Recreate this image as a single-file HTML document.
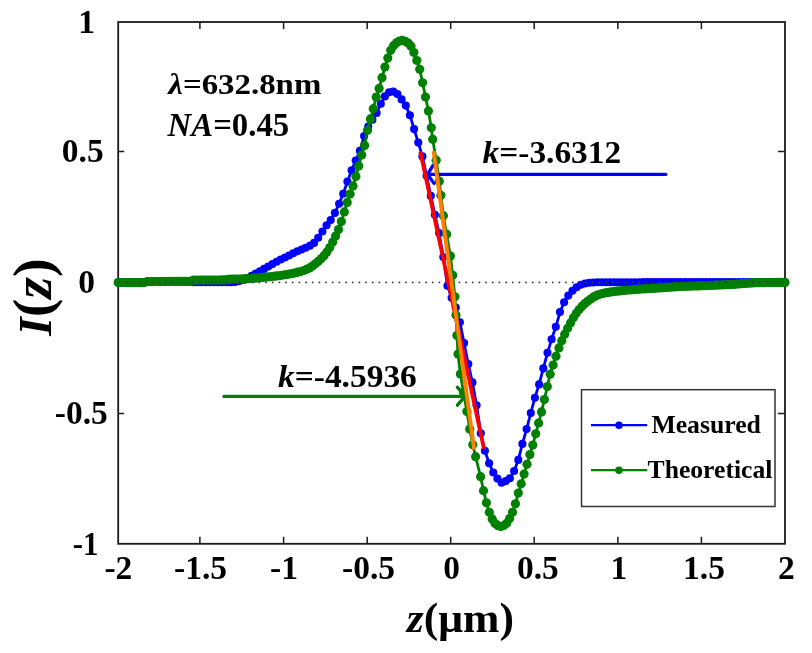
<!DOCTYPE html>
<html><head><meta charset="utf-8"><style>
html,body{margin:0;padding:0;background:#fff;}
body{width:812px;height:653px;overflow:hidden;}
svg{display:block;}
text{font-family:"Liberation Serif","Times New Roman",serif;font-weight:bold;fill:#000;}
.it{font-style:italic;}
</style></head><body>
<svg width="812" height="653" viewBox="0 0 812 653">
<rect width="812" height="653" fill="#fff"/>
<!-- axes -->
<g fill="none" stroke="#1a1a1a" stroke-width="1.8">
<rect x="118.2" y="22.0" width="666.8" height="521.8"/>
<path d="M199.9 543.8V536.8M199.9 22.0V29.0M283.6 543.8V536.8M283.6 22.0V29.0M367.2 543.8V536.8M367.2 22.0V29.0M450.7 543.8V536.8M450.7 22.0V29.0M534.2 543.8V536.8M534.2 22.0V29.0M617.9 543.8V536.8M617.9 22.0V29.0M701.4 543.8V536.8M701.4 22.0V29.0M118.2 151.4H124.2M785.0 151.4H778.0M118.2 282.4H124.2M785.0 282.4H778.0M118.2 413.4H124.2M785.0 413.4H778.0" stroke-width="1.5"/>
</g>
<g fill="none" stroke-linejoin="round">
<polyline points="118.2,282.4 122.4,282.4 126.5,282.4 130.7,282.4 134.9,282.3 139.0,282.3 143.2,282.2 147.4,282.1 151.5,281.5 155.7,281.5 159.9,281.4 164.0,281.4 168.2,281.3 172.4,281.3 176.5,281.3 180.7,281.3 184.9,281.3 189.0,281.6 193.2,282.3 197.4,282.3 201.6,282.3 205.7,282.3 209.9,282.3 214.1,282.3 218.2,282.3 222.4,282.3 226.6,282.3 230.7,282.3 234.9,282.1 239.1,281.1 243.2,279.9 247.4,278.0 251.6,275.8 255.7,273.5 259.9,271.2 264.1,268.9 268.2,266.5 272.4,264.1 276.6,261.8 280.7,259.5 284.9,257.5 289.1,255.5 293.2,253.2 297.4,251.2 301.6,249.5 305.7,247.8 309.9,245.7 314.1,242.9 318.2,237.8 322.4,231.5 326.6,225.3 330.7,220.1 334.9,212.9 339.1,203.7 343.2,193.7 347.4,181.6 351.6,170.2 355.7,160.5 359.9,150.9 364.1,136.1 368.2,126.5 372.4,119.7 376.6,113.0 380.8,103.8 384.9,96.4 389.1,92.2 393.3,91.6 397.4,94.0 401.6,99.4 405.8,105.6 409.9,115.2 414.1,129.1 418.3,142.6 422.4,156.4 426.6,175.8 430.8,195.9 434.9,214.8 439.1,233.1 443.3,257.1 447.4,285.8 451.6,297.8 455.8,307.5 459.9,322.3 464.1,343.1 468.3,364.1 472.4,382.4 476.6,405.2 480.8,433.3 484.9,450.7 489.1,463.3 493.3,472.5 497.4,478.6 501.6,482.8 505.8,481.1 509.9,478.2 514.1,471.0 518.3,459.9 522.4,443.9 526.6,429.1 530.8,413.0 534.9,397.7 539.1,384.4 543.3,368.4 547.5,352.8 551.6,339.3 555.8,326.8 560.0,312.1 564.1,302.3 568.3,295.6 572.5,290.8 576.6,287.3 580.8,284.8 585.0,283.5 589.1,282.8 593.3,282.5 597.5,282.2 601.6,282.2 605.8,282.2 610.0,282.2 614.1,282.2 618.3,282.2 622.5,282.2 626.6,282.2 630.8,282.2 635.0,282.2 639.1,282.2 643.3,282.1 647.5,282.1 651.6,282.1 655.8,282.1 660.0,282.1 664.1,282.1 668.3,282.1 672.5,282.1 676.6,282.1 680.8,282.1 685.0,282.1 689.1,282.1 693.3,282.1 697.5,282.1 701.6,282.1 705.8,282.1 710.0,282.1 714.2,282.1 718.3,282.1 722.5,282.1 726.7,282.1 730.8,282.1 735.0,282.1 739.2,282.1 743.3,282.1 747.5,282.1 751.7,282.1 755.8,282.1 760.0,282.1 764.2,282.1 768.3,282.1 772.5,282.1 776.7,282.1 780.8,282.1 785.0,282.1" stroke="#0000ff" stroke-width="2.8"/>
</g>
<g fill="#0000ff"><circle cx="118.2" cy="282.4" r="4.05"/><circle cx="122.4" cy="282.4" r="4.05"/><circle cx="126.5" cy="282.4" r="4.05"/><circle cx="130.7" cy="282.4" r="4.05"/><circle cx="134.9" cy="282.3" r="4.05"/><circle cx="139.0" cy="282.3" r="4.05"/><circle cx="143.2" cy="282.2" r="4.05"/><circle cx="147.4" cy="282.1" r="4.05"/><circle cx="151.5" cy="281.5" r="4.05"/><circle cx="155.7" cy="281.5" r="4.05"/><circle cx="159.9" cy="281.4" r="4.05"/><circle cx="164.0" cy="281.4" r="4.05"/><circle cx="168.2" cy="281.3" r="4.05"/><circle cx="172.4" cy="281.3" r="4.05"/><circle cx="176.5" cy="281.3" r="4.05"/><circle cx="180.7" cy="281.3" r="4.05"/><circle cx="184.9" cy="281.3" r="4.05"/><circle cx="189.0" cy="281.6" r="4.05"/><circle cx="193.2" cy="282.3" r="4.05"/><circle cx="197.4" cy="282.3" r="4.05"/><circle cx="201.6" cy="282.3" r="4.05"/><circle cx="205.7" cy="282.3" r="4.05"/><circle cx="209.9" cy="282.3" r="4.05"/><circle cx="214.1" cy="282.3" r="4.05"/><circle cx="218.2" cy="282.3" r="4.05"/><circle cx="222.4" cy="282.3" r="4.05"/><circle cx="226.6" cy="282.3" r="4.05"/><circle cx="230.7" cy="282.3" r="4.05"/><circle cx="234.9" cy="282.1" r="4.05"/><circle cx="239.1" cy="281.1" r="4.05"/><circle cx="243.2" cy="279.9" r="4.05"/><circle cx="247.4" cy="278.0" r="4.05"/><circle cx="251.6" cy="275.8" r="4.05"/><circle cx="255.7" cy="273.5" r="4.05"/><circle cx="259.9" cy="271.2" r="4.05"/><circle cx="264.1" cy="268.9" r="4.05"/><circle cx="268.2" cy="266.5" r="4.05"/><circle cx="272.4" cy="264.1" r="4.05"/><circle cx="276.6" cy="261.8" r="4.05"/><circle cx="280.7" cy="259.5" r="4.05"/><circle cx="284.9" cy="257.5" r="4.05"/><circle cx="289.1" cy="255.5" r="4.05"/><circle cx="293.2" cy="253.2" r="4.05"/><circle cx="297.4" cy="251.2" r="4.05"/><circle cx="301.6" cy="249.5" r="4.05"/><circle cx="305.7" cy="247.8" r="4.05"/><circle cx="309.9" cy="245.7" r="4.05"/><circle cx="314.1" cy="242.9" r="4.05"/><circle cx="318.2" cy="237.8" r="4.05"/><circle cx="322.4" cy="231.5" r="4.05"/><circle cx="326.6" cy="225.3" r="4.05"/><circle cx="330.7" cy="220.1" r="4.05"/><circle cx="334.9" cy="212.9" r="4.05"/><circle cx="339.1" cy="203.7" r="4.05"/><circle cx="343.2" cy="193.7" r="4.05"/><circle cx="347.4" cy="181.6" r="4.05"/><circle cx="351.6" cy="170.2" r="4.05"/><circle cx="355.7" cy="160.5" r="4.05"/><circle cx="359.9" cy="150.9" r="4.05"/><circle cx="364.1" cy="136.1" r="4.05"/><circle cx="368.2" cy="126.5" r="4.05"/><circle cx="372.4" cy="119.7" r="4.05"/><circle cx="376.6" cy="113.0" r="4.05"/><circle cx="380.8" cy="103.8" r="4.05"/><circle cx="384.9" cy="96.4" r="4.05"/><circle cx="389.1" cy="92.2" r="4.05"/><circle cx="393.3" cy="91.6" r="4.05"/><circle cx="397.4" cy="94.0" r="4.05"/><circle cx="401.6" cy="99.4" r="4.05"/><circle cx="405.8" cy="105.6" r="4.05"/><circle cx="409.9" cy="115.2" r="4.05"/><circle cx="414.1" cy="129.1" r="4.05"/><circle cx="418.3" cy="142.6" r="4.05"/><circle cx="422.4" cy="156.4" r="4.05"/><circle cx="426.6" cy="175.8" r="4.05"/><circle cx="430.8" cy="195.9" r="4.05"/><circle cx="434.9" cy="214.8" r="4.05"/><circle cx="439.1" cy="233.1" r="4.05"/><circle cx="443.3" cy="257.1" r="4.05"/><circle cx="447.4" cy="285.8" r="4.05"/><circle cx="451.6" cy="297.8" r="4.05"/><circle cx="455.8" cy="307.5" r="4.05"/><circle cx="459.9" cy="322.3" r="4.05"/><circle cx="464.1" cy="343.1" r="4.05"/><circle cx="468.3" cy="364.1" r="4.05"/><circle cx="472.4" cy="382.4" r="4.05"/><circle cx="476.6" cy="405.2" r="4.05"/><circle cx="480.8" cy="433.3" r="4.05"/><circle cx="484.9" cy="450.7" r="4.05"/><circle cx="489.1" cy="463.3" r="4.05"/><circle cx="493.3" cy="472.5" r="4.05"/><circle cx="497.4" cy="478.6" r="4.05"/><circle cx="501.6" cy="482.8" r="4.05"/><circle cx="505.8" cy="481.1" r="4.05"/><circle cx="509.9" cy="478.2" r="4.05"/><circle cx="514.1" cy="471.0" r="4.05"/><circle cx="518.3" cy="459.9" r="4.05"/><circle cx="522.4" cy="443.9" r="4.05"/><circle cx="526.6" cy="429.1" r="4.05"/><circle cx="530.8" cy="413.0" r="4.05"/><circle cx="534.9" cy="397.7" r="4.05"/><circle cx="539.1" cy="384.4" r="4.05"/><circle cx="543.3" cy="368.4" r="4.05"/><circle cx="547.5" cy="352.8" r="4.05"/><circle cx="551.6" cy="339.3" r="4.05"/><circle cx="555.8" cy="326.8" r="4.05"/><circle cx="560.0" cy="312.1" r="4.05"/><circle cx="564.1" cy="302.3" r="4.05"/><circle cx="568.3" cy="295.6" r="4.05"/><circle cx="572.5" cy="290.8" r="4.05"/><circle cx="576.6" cy="287.3" r="4.05"/><circle cx="580.8" cy="284.8" r="4.05"/><circle cx="585.0" cy="283.5" r="4.05"/><circle cx="589.1" cy="282.8" r="4.05"/><circle cx="593.3" cy="282.5" r="4.05"/><circle cx="597.5" cy="282.2" r="4.05"/><circle cx="601.6" cy="282.2" r="4.05"/><circle cx="605.8" cy="282.2" r="4.05"/><circle cx="610.0" cy="282.2" r="4.05"/><circle cx="614.1" cy="282.2" r="4.05"/><circle cx="618.3" cy="282.2" r="4.05"/><circle cx="622.5" cy="282.2" r="4.05"/><circle cx="626.6" cy="282.2" r="4.05"/><circle cx="630.8" cy="282.2" r="4.05"/><circle cx="635.0" cy="282.2" r="4.05"/><circle cx="639.1" cy="282.2" r="4.05"/><circle cx="643.3" cy="282.1" r="4.05"/><circle cx="647.5" cy="282.1" r="4.05"/><circle cx="651.6" cy="282.1" r="4.05"/><circle cx="655.8" cy="282.1" r="4.05"/><circle cx="660.0" cy="282.1" r="4.05"/><circle cx="664.1" cy="282.1" r="4.05"/><circle cx="668.3" cy="282.1" r="4.05"/><circle cx="672.5" cy="282.1" r="4.05"/><circle cx="676.6" cy="282.1" r="4.05"/><circle cx="680.8" cy="282.1" r="4.05"/><circle cx="685.0" cy="282.1" r="4.05"/><circle cx="689.1" cy="282.1" r="4.05"/><circle cx="693.3" cy="282.1" r="4.05"/><circle cx="697.5" cy="282.1" r="4.05"/><circle cx="701.6" cy="282.1" r="4.05"/><circle cx="705.8" cy="282.1" r="4.05"/><circle cx="710.0" cy="282.1" r="4.05"/><circle cx="714.2" cy="282.1" r="4.05"/><circle cx="718.3" cy="282.1" r="4.05"/><circle cx="722.5" cy="282.1" r="4.05"/><circle cx="726.7" cy="282.1" r="4.05"/><circle cx="730.8" cy="282.1" r="4.05"/><circle cx="735.0" cy="282.1" r="4.05"/><circle cx="739.2" cy="282.1" r="4.05"/><circle cx="743.3" cy="282.1" r="4.05"/><circle cx="747.5" cy="282.1" r="4.05"/><circle cx="751.7" cy="282.1" r="4.05"/><circle cx="755.8" cy="282.1" r="4.05"/><circle cx="760.0" cy="282.1" r="4.05"/><circle cx="764.2" cy="282.1" r="4.05"/><circle cx="768.3" cy="282.1" r="4.05"/><circle cx="772.5" cy="282.1" r="4.05"/><circle cx="776.7" cy="282.1" r="4.05"/><circle cx="780.8" cy="282.1" r="4.05"/><circle cx="785.0" cy="282.1" r="4.05"/></g>
<g fill="none">
<polyline points="118.2,282.6 121.1,282.6 124.0,282.6 126.9,282.6 129.8,282.6 132.7,282.6 135.6,282.6 138.5,282.6 141.4,282.6 144.3,282.6 147.2,281.5 150.1,281.5 153.0,281.5 155.9,281.5 158.8,281.5 161.7,281.5 164.6,281.5 167.5,281.5 170.4,281.4 173.3,281.4 176.2,281.4 179.1,281.4 182.0,281.4 184.9,281.4 187.8,281.4 190.7,281.4 193.6,280.1 196.5,280.1 199.4,280.0 202.3,280.0 205.2,280.0 208.1,280.0 211.0,280.0 213.9,280.0 216.8,280.0 219.7,280.0 222.6,279.9 225.5,279.9 228.4,279.4 231.3,279.2 234.2,279.1 237.1,279.0 240.0,279.0 242.9,278.9 245.8,278.8 248.7,278.6 251.6,278.4 254.5,278.2 257.4,278.0 260.3,277.7 263.2,277.4 266.1,277.1 269.0,276.8 271.9,276.5 274.8,276.2 277.7,275.8 280.6,275.5 283.5,275.0 286.3,274.6 289.2,274.1 292.1,273.5 295.0,272.9 297.9,272.2 300.8,271.5 303.7,270.5 306.6,269.3 309.5,267.9 312.4,266.0 315.3,263.8 318.2,261.4 321.1,258.8 324.0,255.7 326.9,251.9 329.8,247.5 332.7,242.0 335.6,236.0 338.5,229.6 341.4,221.6 344.3,211.9 347.2,202.4 350.1,194.1 353.0,185.9 355.9,176.6 358.8,165.9 361.7,155.0 364.6,145.6 367.5,130.3 370.4,118.9 373.3,108.7 376.2,97.1 379.1,88.4 382.0,77.7 384.9,67.1 387.8,58.1 390.7,50.3 393.6,45.7 396.5,42.8 399.4,41.1 402.3,40.4 405.2,41.3 408.1,43.0 411.0,46.2 413.9,52.5 416.8,60.5 419.7,69.3 422.6,82.8 425.5,97.0 428.4,110.9 431.3,127.8 432.7,139.3 436.2,160.2 439.3,181.2 440.9,195.3 443.4,215.7 446.6,234.2 450.4,255.9 452.7,275.2 454.9,296.8 456.0,315.0 456.9,335.5 458.0,354.1 460.4,374.0 463.5,392.2 466.9,411.6 469.7,429.1 472.8,444.8 475.6,456.7 480.6,476.7 483.5,490.7 486.4,502.8 489.3,512.3 492.2,518.9 495.1,523.4 498.0,525.7 500.9,526.6 503.8,525.5 506.7,523.3 509.6,518.6 512.5,512.3 515.4,503.8 518.3,493.1 521.2,483.8 524.1,474.1 527.0,464.3 529.9,454.6 532.8,445.1 535.7,433.8 538.6,423.0 541.5,411.9 544.4,399.5 547.3,386.5 550.2,374.2 553.1,365.1 556.0,356.2 558.9,347.9 561.8,340.7 564.7,334.2 567.6,328.3 570.5,322.9 573.4,317.8 576.3,313.2 579.2,309.5 582.1,306.2 585.0,303.4 587.9,301.1 590.8,298.9 593.7,296.9 596.6,295.4 599.5,294.3 602.4,293.5 605.3,292.9 608.2,292.4 611.1,291.9 614.0,291.5 616.9,291.2 619.7,290.9 622.6,290.6 625.5,290.3 628.4,290.0 631.3,289.8 634.2,289.6 637.1,289.3 640.0,289.1 642.9,288.9 645.8,288.8 648.7,288.6 651.6,288.4 654.5,288.3 657.4,288.1 660.3,287.9 663.2,287.7 666.1,287.5 669.0,287.3 671.9,287.1 674.8,286.9 677.7,286.7 680.6,286.5 683.5,286.4 686.4,286.3 689.3,286.2 692.2,286.1 695.1,286.0 698.0,285.9 700.9,285.8 703.8,285.7 706.7,285.6 709.6,285.5 712.5,285.4 715.4,285.2 718.3,285.1 721.2,285.0 724.1,284.8 727.0,284.7 729.9,284.5 732.8,284.4 735.7,284.2 738.6,284.0 741.5,283.7 744.4,283.5 747.3,283.3 750.2,283.1 753.1,282.9 756.0,282.7 758.9,282.7 761.8,282.6 764.7,282.6 767.6,282.5 770.5,282.5 773.4,282.5 776.3,282.4 779.2,282.4 782.1,282.4 785.0,282.4" stroke="#008000" stroke-width="2.8"/>
</g>
<g fill="#008000"><circle cx="118.2" cy="282.6" r="4.6"/><circle cx="121.1" cy="282.6" r="4.6"/><circle cx="124.0" cy="282.6" r="4.6"/><circle cx="126.9" cy="282.6" r="4.6"/><circle cx="129.8" cy="282.6" r="4.6"/><circle cx="132.7" cy="282.6" r="4.6"/><circle cx="135.6" cy="282.6" r="4.6"/><circle cx="138.5" cy="282.6" r="4.6"/><circle cx="141.4" cy="282.6" r="4.6"/><circle cx="144.3" cy="282.6" r="4.6"/><circle cx="147.2" cy="281.5" r="4.6"/><circle cx="150.1" cy="281.5" r="4.6"/><circle cx="153.0" cy="281.5" r="4.6"/><circle cx="155.9" cy="281.5" r="4.6"/><circle cx="158.8" cy="281.5" r="4.6"/><circle cx="161.7" cy="281.5" r="4.6"/><circle cx="164.6" cy="281.5" r="4.6"/><circle cx="167.5" cy="281.5" r="4.6"/><circle cx="170.4" cy="281.4" r="4.6"/><circle cx="173.3" cy="281.4" r="4.6"/><circle cx="176.2" cy="281.4" r="4.6"/><circle cx="179.1" cy="281.4" r="4.6"/><circle cx="182.0" cy="281.4" r="4.6"/><circle cx="184.9" cy="281.4" r="4.6"/><circle cx="187.8" cy="281.4" r="4.6"/><circle cx="190.7" cy="281.4" r="4.6"/><circle cx="193.6" cy="280.1" r="4.6"/><circle cx="196.5" cy="280.1" r="4.6"/><circle cx="199.4" cy="280.0" r="4.6"/><circle cx="202.3" cy="280.0" r="4.6"/><circle cx="205.2" cy="280.0" r="4.6"/><circle cx="208.1" cy="280.0" r="4.6"/><circle cx="211.0" cy="280.0" r="4.6"/><circle cx="213.9" cy="280.0" r="4.6"/><circle cx="216.8" cy="280.0" r="4.6"/><circle cx="219.7" cy="280.0" r="4.6"/><circle cx="222.6" cy="279.9" r="4.6"/><circle cx="225.5" cy="279.9" r="4.6"/><circle cx="228.4" cy="279.4" r="4.6"/><circle cx="231.3" cy="279.2" r="4.6"/><circle cx="234.2" cy="279.1" r="4.6"/><circle cx="237.1" cy="279.0" r="4.6"/><circle cx="240.0" cy="279.0" r="4.6"/><circle cx="242.9" cy="278.9" r="4.6"/><circle cx="245.8" cy="278.8" r="4.6"/><circle cx="248.7" cy="278.6" r="4.6"/><circle cx="251.6" cy="278.4" r="4.6"/><circle cx="254.5" cy="278.2" r="4.6"/><circle cx="257.4" cy="278.0" r="4.6"/><circle cx="260.3" cy="277.7" r="4.6"/><circle cx="263.2" cy="277.4" r="4.6"/><circle cx="266.1" cy="277.1" r="4.6"/><circle cx="269.0" cy="276.8" r="4.6"/><circle cx="271.9" cy="276.5" r="4.6"/><circle cx="274.8" cy="276.2" r="4.6"/><circle cx="277.7" cy="275.8" r="4.6"/><circle cx="280.6" cy="275.5" r="4.6"/><circle cx="283.5" cy="275.0" r="4.6"/><circle cx="286.3" cy="274.6" r="4.6"/><circle cx="289.2" cy="274.1" r="4.6"/><circle cx="292.1" cy="273.5" r="4.6"/><circle cx="295.0" cy="272.9" r="4.6"/><circle cx="297.9" cy="272.2" r="4.6"/><circle cx="300.8" cy="271.5" r="4.6"/><circle cx="303.7" cy="270.5" r="4.6"/><circle cx="306.6" cy="269.3" r="4.6"/><circle cx="309.5" cy="267.9" r="4.6"/><circle cx="312.4" cy="266.0" r="4.6"/><circle cx="315.3" cy="263.8" r="4.6"/><circle cx="318.2" cy="261.4" r="4.6"/><circle cx="321.1" cy="258.8" r="4.6"/><circle cx="324.0" cy="255.7" r="4.6"/><circle cx="326.9" cy="251.9" r="4.6"/><circle cx="329.8" cy="247.5" r="4.6"/><circle cx="332.7" cy="242.0" r="4.6"/><circle cx="335.6" cy="236.0" r="4.6"/><circle cx="338.5" cy="229.6" r="4.6"/><circle cx="341.4" cy="221.6" r="4.6"/><circle cx="344.3" cy="211.9" r="4.6"/><circle cx="347.2" cy="202.4" r="4.6"/><circle cx="350.1" cy="194.1" r="4.6"/><circle cx="353.0" cy="185.9" r="4.6"/><circle cx="355.9" cy="176.6" r="4.6"/><circle cx="358.8" cy="165.9" r="4.6"/><circle cx="361.7" cy="155.0" r="4.6"/><circle cx="364.6" cy="145.6" r="4.6"/><circle cx="367.5" cy="130.3" r="4.6"/><circle cx="370.4" cy="118.9" r="4.6"/><circle cx="373.3" cy="108.7" r="4.6"/><circle cx="376.2" cy="97.1" r="4.6"/><circle cx="379.1" cy="88.4" r="4.6"/><circle cx="382.0" cy="77.7" r="4.6"/><circle cx="384.9" cy="67.1" r="4.6"/><circle cx="387.8" cy="58.1" r="4.6"/><circle cx="390.7" cy="50.3" r="4.6"/><circle cx="393.6" cy="45.7" r="4.6"/><circle cx="396.5" cy="42.8" r="4.6"/><circle cx="399.4" cy="41.1" r="4.6"/><circle cx="402.3" cy="40.4" r="4.6"/><circle cx="405.2" cy="41.3" r="4.6"/><circle cx="408.1" cy="43.0" r="4.6"/><circle cx="411.0" cy="46.2" r="4.6"/><circle cx="413.9" cy="52.5" r="4.6"/><circle cx="416.8" cy="60.5" r="4.6"/><circle cx="419.7" cy="69.3" r="4.6"/><circle cx="422.6" cy="82.8" r="4.6"/><circle cx="425.5" cy="97.0" r="4.6"/><circle cx="428.4" cy="110.9" r="4.6"/><circle cx="431.3" cy="127.8" r="4.6"/><circle cx="432.7" cy="139.3" r="4.6"/><circle cx="436.2" cy="160.2" r="4.6"/><circle cx="439.3" cy="181.2" r="4.6"/><circle cx="440.9" cy="195.3" r="4.6"/><circle cx="443.4" cy="215.7" r="4.6"/><circle cx="446.6" cy="234.2" r="4.6"/><circle cx="450.4" cy="255.9" r="4.6"/><circle cx="452.7" cy="275.2" r="4.6"/><circle cx="454.9" cy="296.8" r="4.6"/><circle cx="456.0" cy="315.0" r="4.6"/><circle cx="456.9" cy="335.5" r="4.6"/><circle cx="458.0" cy="354.1" r="4.6"/><circle cx="460.4" cy="374.0" r="4.6"/><circle cx="463.5" cy="392.2" r="4.6"/><circle cx="466.9" cy="411.6" r="4.6"/><circle cx="469.7" cy="429.1" r="4.6"/><circle cx="472.8" cy="444.8" r="4.6"/><circle cx="475.6" cy="456.7" r="4.6"/><circle cx="480.6" cy="476.7" r="4.6"/><circle cx="483.5" cy="490.7" r="4.6"/><circle cx="486.4" cy="502.8" r="4.6"/><circle cx="489.3" cy="512.3" r="4.6"/><circle cx="492.2" cy="518.9" r="4.6"/><circle cx="495.1" cy="523.4" r="4.6"/><circle cx="498.0" cy="525.7" r="4.6"/><circle cx="500.9" cy="526.6" r="4.6"/><circle cx="503.8" cy="525.5" r="4.6"/><circle cx="506.7" cy="523.3" r="4.6"/><circle cx="509.6" cy="518.6" r="4.6"/><circle cx="512.5" cy="512.3" r="4.6"/><circle cx="515.4" cy="503.8" r="4.6"/><circle cx="518.3" cy="493.1" r="4.6"/><circle cx="521.2" cy="483.8" r="4.6"/><circle cx="524.1" cy="474.1" r="4.6"/><circle cx="527.0" cy="464.3" r="4.6"/><circle cx="529.9" cy="454.6" r="4.6"/><circle cx="532.8" cy="445.1" r="4.6"/><circle cx="535.7" cy="433.8" r="4.6"/><circle cx="538.6" cy="423.0" r="4.6"/><circle cx="541.5" cy="411.9" r="4.6"/><circle cx="544.4" cy="399.5" r="4.6"/><circle cx="547.3" cy="386.5" r="4.6"/><circle cx="550.2" cy="374.2" r="4.6"/><circle cx="553.1" cy="365.1" r="4.6"/><circle cx="556.0" cy="356.2" r="4.6"/><circle cx="558.9" cy="347.9" r="4.6"/><circle cx="561.8" cy="340.7" r="4.6"/><circle cx="564.7" cy="334.2" r="4.6"/><circle cx="567.6" cy="328.3" r="4.6"/><circle cx="570.5" cy="322.9" r="4.6"/><circle cx="573.4" cy="317.8" r="4.6"/><circle cx="576.3" cy="313.2" r="4.6"/><circle cx="579.2" cy="309.5" r="4.6"/><circle cx="582.1" cy="306.2" r="4.6"/><circle cx="585.0" cy="303.4" r="4.6"/><circle cx="587.9" cy="301.1" r="4.6"/><circle cx="590.8" cy="298.9" r="4.6"/><circle cx="593.7" cy="296.9" r="4.6"/><circle cx="596.6" cy="295.4" r="4.6"/><circle cx="599.5" cy="294.3" r="4.6"/><circle cx="602.4" cy="293.5" r="4.6"/><circle cx="605.3" cy="292.9" r="4.6"/><circle cx="608.2" cy="292.4" r="4.6"/><circle cx="611.1" cy="291.9" r="4.6"/><circle cx="614.0" cy="291.5" r="4.6"/><circle cx="616.9" cy="291.2" r="4.6"/><circle cx="619.7" cy="290.9" r="4.6"/><circle cx="622.6" cy="290.6" r="4.6"/><circle cx="625.5" cy="290.3" r="4.6"/><circle cx="628.4" cy="290.0" r="4.6"/><circle cx="631.3" cy="289.8" r="4.6"/><circle cx="634.2" cy="289.6" r="4.6"/><circle cx="637.1" cy="289.3" r="4.6"/><circle cx="640.0" cy="289.1" r="4.6"/><circle cx="642.9" cy="288.9" r="4.6"/><circle cx="645.8" cy="288.8" r="4.6"/><circle cx="648.7" cy="288.6" r="4.6"/><circle cx="651.6" cy="288.4" r="4.6"/><circle cx="654.5" cy="288.3" r="4.6"/><circle cx="657.4" cy="288.1" r="4.6"/><circle cx="660.3" cy="287.9" r="4.6"/><circle cx="663.2" cy="287.7" r="4.6"/><circle cx="666.1" cy="287.5" r="4.6"/><circle cx="669.0" cy="287.3" r="4.6"/><circle cx="671.9" cy="287.1" r="4.6"/><circle cx="674.8" cy="286.9" r="4.6"/><circle cx="677.7" cy="286.7" r="4.6"/><circle cx="680.6" cy="286.5" r="4.6"/><circle cx="683.5" cy="286.4" r="4.6"/><circle cx="686.4" cy="286.3" r="4.6"/><circle cx="689.3" cy="286.2" r="4.6"/><circle cx="692.2" cy="286.1" r="4.6"/><circle cx="695.1" cy="286.0" r="4.6"/><circle cx="698.0" cy="285.9" r="4.6"/><circle cx="700.9" cy="285.8" r="4.6"/><circle cx="703.8" cy="285.7" r="4.6"/><circle cx="706.7" cy="285.6" r="4.6"/><circle cx="709.6" cy="285.5" r="4.6"/><circle cx="712.5" cy="285.4" r="4.6"/><circle cx="715.4" cy="285.2" r="4.6"/><circle cx="718.3" cy="285.1" r="4.6"/><circle cx="721.2" cy="285.0" r="4.6"/><circle cx="724.1" cy="284.8" r="4.6"/><circle cx="727.0" cy="284.7" r="4.6"/><circle cx="729.9" cy="284.5" r="4.6"/><circle cx="732.8" cy="284.4" r="4.6"/><circle cx="735.7" cy="284.2" r="4.6"/><circle cx="738.6" cy="284.0" r="4.6"/><circle cx="741.5" cy="283.7" r="4.6"/><circle cx="744.4" cy="283.5" r="4.6"/><circle cx="747.3" cy="283.3" r="4.6"/><circle cx="750.2" cy="283.1" r="4.6"/><circle cx="753.1" cy="282.9" r="4.6"/><circle cx="756.0" cy="282.7" r="4.6"/><circle cx="758.9" cy="282.7" r="4.6"/><circle cx="761.8" cy="282.6" r="4.6"/><circle cx="764.7" cy="282.6" r="4.6"/><circle cx="767.6" cy="282.5" r="4.6"/><circle cx="770.5" cy="282.5" r="4.6"/><circle cx="773.4" cy="282.5" r="4.6"/><circle cx="776.3" cy="282.4" r="4.6"/><circle cx="779.2" cy="282.4" r="4.6"/><circle cx="782.1" cy="282.4" r="4.6"/><circle cx="785.0" cy="282.4" r="4.6"/></g>
<g fill="#3a3a3a"><circle cx="119.40" cy="282.4" r="0.95"/><circle cx="126.07" cy="282.4" r="0.95"/><circle cx="132.73" cy="282.4" r="0.95"/><circle cx="139.40" cy="282.4" r="0.95"/><circle cx="146.07" cy="282.4" r="0.95"/><circle cx="152.74" cy="282.4" r="0.95"/><circle cx="159.40" cy="282.4" r="0.95"/><circle cx="166.07" cy="282.4" r="0.95"/><circle cx="172.74" cy="282.4" r="0.95"/><circle cx="179.40" cy="282.4" r="0.95"/><circle cx="186.07" cy="282.4" r="0.95"/><circle cx="192.74" cy="282.4" r="0.95"/><circle cx="199.40" cy="282.4" r="0.95"/><circle cx="206.07" cy="282.4" r="0.95"/><circle cx="212.74" cy="282.4" r="0.95"/><circle cx="219.41" cy="282.4" r="0.95"/><circle cx="226.07" cy="282.4" r="0.95"/><circle cx="232.74" cy="282.4" r="0.95"/><circle cx="239.41" cy="282.4" r="0.95"/><circle cx="246.07" cy="282.4" r="0.95"/><circle cx="252.74" cy="282.4" r="0.95"/><circle cx="259.41" cy="282.4" r="0.95"/><circle cx="266.07" cy="282.4" r="0.95"/><circle cx="272.74" cy="282.4" r="0.95"/><circle cx="279.41" cy="282.4" r="0.95"/><circle cx="286.07" cy="282.4" r="0.95"/><circle cx="292.74" cy="282.4" r="0.95"/><circle cx="299.41" cy="282.4" r="0.95"/><circle cx="306.08" cy="282.4" r="0.95"/><circle cx="312.74" cy="282.4" r="0.95"/><circle cx="319.41" cy="282.4" r="0.95"/><circle cx="326.08" cy="282.4" r="0.95"/><circle cx="332.74" cy="282.4" r="0.95"/><circle cx="339.41" cy="282.4" r="0.95"/><circle cx="346.08" cy="282.4" r="0.95"/><circle cx="352.75" cy="282.4" r="0.95"/><circle cx="359.41" cy="282.4" r="0.95"/><circle cx="366.08" cy="282.4" r="0.95"/><circle cx="372.75" cy="282.4" r="0.95"/><circle cx="379.41" cy="282.4" r="0.95"/><circle cx="386.08" cy="282.4" r="0.95"/><circle cx="392.75" cy="282.4" r="0.95"/><circle cx="399.41" cy="282.4" r="0.95"/><circle cx="406.08" cy="282.4" r="0.95"/><circle cx="412.75" cy="282.4" r="0.95"/><circle cx="419.41" cy="282.4" r="0.95"/><circle cx="426.08" cy="282.4" r="0.95"/><circle cx="432.75" cy="282.4" r="0.95"/><circle cx="439.42" cy="282.4" r="0.95"/><circle cx="446.08" cy="282.4" r="0.95"/><circle cx="452.75" cy="282.4" r="0.95"/><circle cx="459.42" cy="282.4" r="0.95"/><circle cx="466.08" cy="282.4" r="0.95"/><circle cx="472.75" cy="282.4" r="0.95"/><circle cx="479.42" cy="282.4" r="0.95"/><circle cx="486.09" cy="282.4" r="0.95"/><circle cx="492.75" cy="282.4" r="0.95"/><circle cx="499.42" cy="282.4" r="0.95"/><circle cx="506.09" cy="282.4" r="0.95"/><circle cx="512.75" cy="282.4" r="0.95"/><circle cx="519.42" cy="282.4" r="0.95"/><circle cx="526.09" cy="282.4" r="0.95"/><circle cx="532.75" cy="282.4" r="0.95"/><circle cx="539.42" cy="282.4" r="0.95"/><circle cx="546.09" cy="282.4" r="0.95"/><circle cx="552.75" cy="282.4" r="0.95"/><circle cx="559.42" cy="282.4" r="0.95"/><circle cx="566.09" cy="282.4" r="0.95"/><circle cx="572.76" cy="282.4" r="0.95"/><circle cx="579.42" cy="282.4" r="0.95"/><circle cx="586.09" cy="282.4" r="0.95"/><circle cx="592.76" cy="282.4" r="0.95"/><circle cx="599.42" cy="282.4" r="0.95"/><circle cx="606.09" cy="282.4" r="0.95"/><circle cx="612.76" cy="282.4" r="0.95"/><circle cx="619.42" cy="282.4" r="0.95"/><circle cx="626.09" cy="282.4" r="0.95"/><circle cx="632.76" cy="282.4" r="0.95"/><circle cx="639.43" cy="282.4" r="0.95"/><circle cx="646.09" cy="282.4" r="0.95"/><circle cx="652.76" cy="282.4" r="0.95"/><circle cx="659.43" cy="282.4" r="0.95"/><circle cx="666.09" cy="282.4" r="0.95"/><circle cx="672.76" cy="282.4" r="0.95"/><circle cx="679.43" cy="282.4" r="0.95"/><circle cx="686.09" cy="282.4" r="0.95"/><circle cx="692.76" cy="282.4" r="0.95"/><circle cx="699.43" cy="282.4" r="0.95"/><circle cx="706.10" cy="282.4" r="0.95"/><circle cx="712.76" cy="282.4" r="0.95"/><circle cx="719.43" cy="282.4" r="0.95"/><circle cx="726.10" cy="282.4" r="0.95"/><circle cx="732.76" cy="282.4" r="0.95"/><circle cx="739.43" cy="282.4" r="0.95"/><circle cx="746.10" cy="282.4" r="0.95"/><circle cx="752.76" cy="282.4" r="0.95"/><circle cx="759.43" cy="282.4" r="0.95"/><circle cx="766.10" cy="282.4" r="0.95"/><circle cx="772.77" cy="282.4" r="0.95"/><circle cx="779.43" cy="282.4" r="0.95"/></g>
<!-- arrows -->
<g fill="none" stroke="#0000ff" stroke-width="3.3" stroke-linecap="round" stroke-linejoin="round">
<path d="M665.8 174.4H427.6"/><path d="M433.2 165.2L427.6 174.4L434.0 183.4"/>
</g>
<g fill="none" stroke="#008000" stroke-width="3.3" stroke-linecap="round" stroke-linejoin="round">
<path d="M224 396.4H465"/><path d="M457.4 387.2L465 396.4L457.4 405.2"/>
</g>
<line x1="420.3" y1="151.6" x2="483.9" y2="448.6" stroke="#ff0000" stroke-width="3.8"/>
<line x1="433.6" y1="151.1" x2="474.2" y2="449.7" stroke="#ff7f00" stroke-width="3.9"/>
<!-- legend -->
<rect x="581.5" y="389.7" width="193.5" height="116.8" fill="#fff" stroke="#333" stroke-width="1.5"/>
<line x1="591" y1="425.2" x2="647.2" y2="425.2" stroke="#0000ff" stroke-width="2.2"/>
<circle cx="619" cy="425.2" r="3.8" fill="#0000ff"/>
<line x1="591" y1="470.2" x2="647.2" y2="470.2" stroke="#008000" stroke-width="2.2"/>
<circle cx="619" cy="470.2" r="3.8" fill="#008000"/>
<text transform="translate(651.40,433.00) scale(0.9820,1)" font-size="26.20">Measured</text>
<text transform="translate(647.60,477.80) scale(0.9780,1)" font-size="26.20">Theoretical</text>
<text x="78.30" y="32.70" font-size="33.50">1</text>
<text x="61.80" y="161.80" font-size="33.50">0.5</text>
<text x="78.30" y="292.90" font-size="33.50">0</text>
<text x="54.80" y="423.80" font-size="33.50">-0.5</text>
<text transform="translate(72.70,554.50) scale(0.9200,1)" font-size="33.50">-1</text>
<text x="118.40" y="579.40" font-size="33.50" text-anchor="middle">-2</text>
<text x="200.55" y="579.40" font-size="33.50" text-anchor="middle">-1.5</text>
<text x="283.95" y="579.40" font-size="33.50" text-anchor="middle">-1</text>
<text x="368.55" y="579.40" font-size="33.50" text-anchor="middle">-0.5</text>
<text x="451.65" y="579.40" font-size="33.50" text-anchor="middle">0</text>
<text x="537.85" y="579.40" font-size="33.50" text-anchor="middle">0.5</text>
<text x="618.80" y="579.40" font-size="33.50" text-anchor="middle">1</text>
<text x="704.00" y="579.40" font-size="33.50" text-anchor="middle">1.5</text>
<text x="786.30" y="579.40" font-size="33.50" text-anchor="middle">2</text>
<text transform="translate(168.30,93.70) scale(1.1000,1)" font-size="29.90"><tspan class="it">λ</tspan>=632.8nm</text>
<text x="167.60" y="136.20" font-size="32.80"><tspan class="it">NA</tspan>=0.45</text>
<text transform="translate(482.60,162.60) scale(1.0300,1)" font-size="32.40"><tspan class="it">k</tspan>=-3.6312</text>
<text transform="translate(278.00,386.60) scale(1.0650,1)" font-size="31.40"><tspan class="it">k</tspan>=-4.5936</text>
<text transform="translate(406.80,632.00) scale(1.0200,1)" font-size="42.80"><tspan class="it">z</tspan>(μm)</text>
<text transform="translate(50.80,335.80) rotate(-90) scale(1.0350,1)" font-size="54.00"><tspan class="it" font-size="46">I</tspan>(<tspan class="it">z</tspan>)</text>
</svg>
</body></html>
